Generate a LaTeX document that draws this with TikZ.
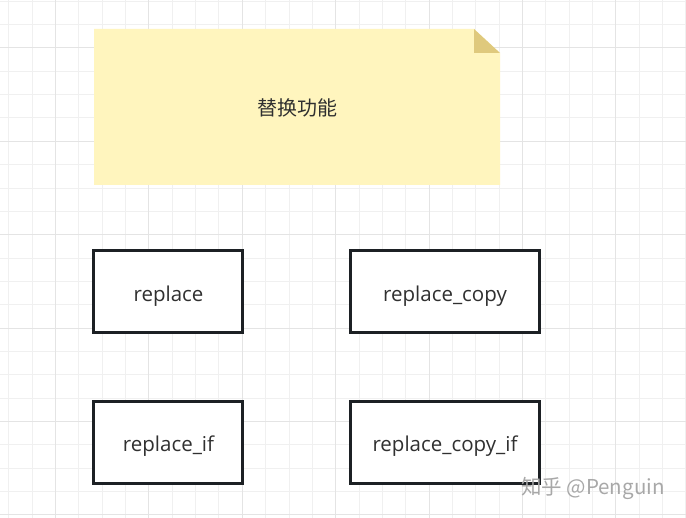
\documentclass[tikz,border=0pt]{standalone}
\usepackage{fontspec}
\setmainfont{Open Sans}
\newfontfamily\cjk{Noto Sans CJK SC}
\definecolor{gridminor}{HTML}{F0F0F0}
\definecolor{gridmajor}{HTML}{E4E4E4}
\definecolor{notefill}{HTML}{FFF5BE}
\definecolor{notefold}{HTML}{DFC97D}
\definecolor{boxline}{HTML}{1C2024}
\definecolor{txt}{HTML}{303030}
\definecolor{wm}{HTML}{A8A8A8}
\begin{document}
\begin{tikzpicture}[x=1pt,y=-1pt,
  fnbox/.style={draw=boxline,line width=3pt,fill=white,minimum width=149pt,minimum height=82pt,inner sep=0pt,text=txt},
  widebox/.style={fnbox,minimum width=189pt},
  boxlabel/.style={font=\fontsize{20.5}{24}\selectfont,text=txt,inner sep=0pt}]
\useasboundingbox (0,0) rectangle (686,518);
\fill[white] (0,0) rectangle (686,518);
% grid
\foreach \i in {0,...,30} {
  \pgfmathsetmacro{\xx}{round(8.3+23.35*\i)+0.5}
  \draw[gridminor,line width=1pt] (\xx,0) -- (\xx,518);
}
\foreach \i in {0,...,23} {
  \pgfmathsetmacro{\yy}{round(0.7+23.35*\i)+0.5}
  \draw[gridminor,line width=1pt] (0,\yy) -- (686,\yy);
}
\foreach \i in {0,...,7} {
  \pgfmathsetmacro{\xx}{round(55+93.4*\i)+0.5}
  \draw[gridmajor,line width=1pt] (\xx,0) -- (\xx,518);
}
\foreach \i in {0,...,5} {
  \pgfmathsetmacro{\yy}{round(47.4+93.4*\i)+0.5}
  \draw[gridmajor,line width=1pt] (0,\yy) -- (686,\yy);
}
% note
\fill[notefill] (94,29) -- (474,29) -- (500,53) -- (500,185) -- (94,185) -- cycle;
\fill[notefold] (474,29) -- (474,53) -- (500,53) -- cycle;
\node[text=txt,font=\cjk\fontsize{20}{24}\selectfont] (title) at (297,108) {替换功能};
% boxes
\node[fnbox] (rep) at (168,292) {};
\node[widebox] (repcopy) at (444.5,292) {};
\node[fnbox] (repif) at (168,442.5) {};
\node[widebox] (repcopyif) at (444.5,442.5) {};
\node[boxlabel,anchor=base] (repT) at (168.5,302) {replace};
\node[boxlabel,anchor=base] (repcopyT) at (445,302) {replace\_copy};
\node[boxlabel,anchor=base] (repifT) at (168.5,452) {replace\_if};
\node[boxlabel,anchor=base] (repcopyifT) at (445,452) {replace\_copy\_if};
% watermark
\node[text=wm,font=\cjk\fontsize{20.5}{24}\selectfont,anchor=west,inner sep=0pt] (wmark) at (521,488) {知乎 @Penguin};
\end{tikzpicture}
\end{document}
